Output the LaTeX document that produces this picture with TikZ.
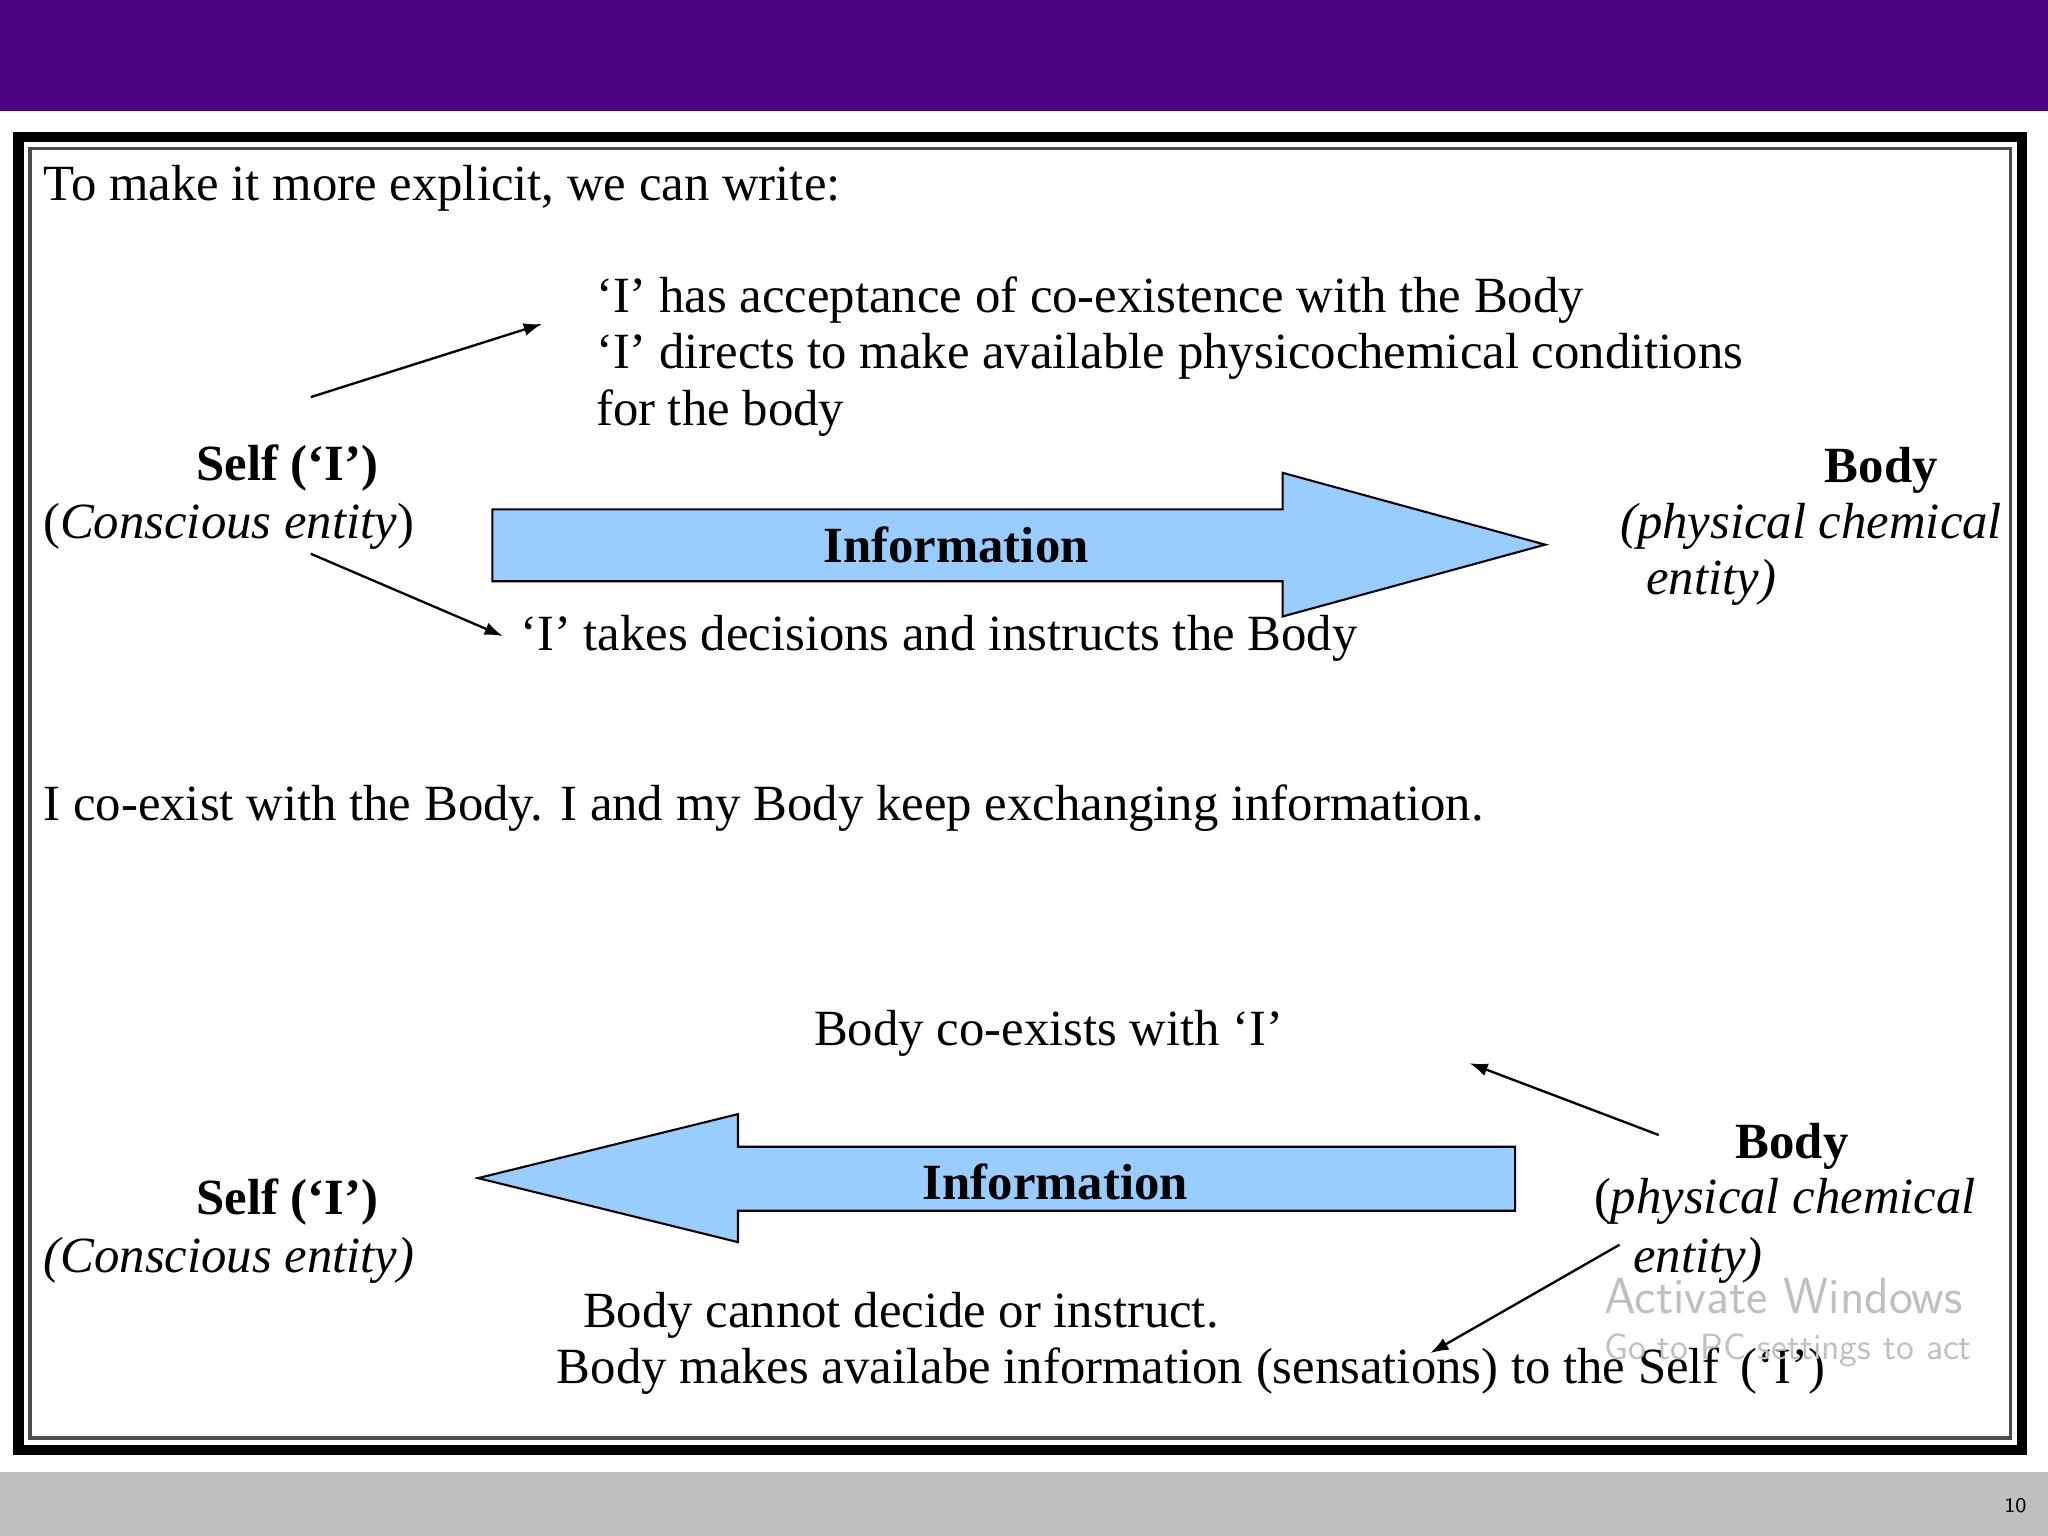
\documentclass[tikz,border=0pt]{standalone}
\usepackage{fontspec}
\setmainfont{Liberation Serif}
\usetikzlibrary{arrows.meta}
\usetikzlibrary{positioning}
\definecolor{barpurple}{HTML}{4B0080}
\definecolor{barblue}{HTML}{99CCFF}
\definecolor{bargray}{HTML}{BFBFBF}
\begin{document}
\begin{tikzpicture}[x=0.5bp,y=-0.5bp,>={Latex[length=7bp,width=5bp]},
  txt/.style={inner sep=0pt,font=\fontsize{19.5}{23}\selectfont},
  bigarrow/.style={draw=black,line width=0.8bp,fill=barblue,line join=miter},
  thin/.style={->,line width=0.9bp}]
%%
\useasboundingbox (0,0) rectangle (1568,1176);
\fill[barpurple] (0,0) rectangle (1568,85);
\fill[bargray] (0,1127) rectangle (1568,1176);
\node (page) at (1543,1153) [font=\sffamily\fontsize{8}{9}\selectfont] {10};
\draw[line width=4bp] (14,105) rectangle (1548,1110);
\draw[line width=1.2bp,black!70] (23,114) rectangle (1539,1101);
%
\node (intro) at (33,144) [txt,anchor=west] {To make it more explicit, we can write:};
\node (acc) at (456,230) [txt,anchor=west] {‘I’ has acceptance of co-existence with the Body};
\node (dir) at (456,273) [txt,anchor=west] {‘I’ directs to make available physicochemical conditions};
\node (forb) at (456,316) [txt,anchor=west] {for the body};
\node (selfA) at (220,358) [txt] {\textbf{Self (‘I’)}};
\node (consA) at (175,403) [txt] {(\textit{Conscious entity})};
\node (bodyA) at (1484,360) [txt,anchor=east] {\textbf{Body}};
\node (physA) at (1240,403) [txt,anchor=west] {\textit{(physical chemical}};
\node (entA) at (1260,446) [txt,anchor=west] {\textit{entity)}};
\node (takes) at (398,489) [txt,anchor=west] {‘I’ takes decisions and instructs the Body};
%
\draw[bigarrow] (377,390) -- (982,390) -- (982,362) -- (1183,417) -- (982,472) -- (982,445) -- (377,445) -- cycle;
\node (infoA) at (732,417) [txt] {\textbf{Information}};
\coordinate (fromA) at (238,304);
\coordinate (toA) at (415,248);
\coordinate (fromB) at (238,424);
\coordinate (toB) at (385,487);
\draw[thin] (fromA) -- (toA);
\draw[thin] (fromB) -- (toB);
%
\node (coex) at (33,619) [txt,anchor=west] {I co-exist with the Body. I and my Body keep exchanging information.};
%
\node (bodyco) at (803,791) [txt] {Body co-exists with ‘I’};
\node (selfB) at (220,920) [txt] {\textbf{Self (‘I’)}};
\node (consB) at (33,965) [txt,anchor=west] {\textit{(Conscious entity)}};
\node (bodyB) at (1372,878) [txt] {\textbf{Body}};
\node (physB) at (1220,920) [txt,anchor=west] {(\textit{physical chemical}};
\node (entB) at (1250,965) [txt,anchor=west] {\textit{entity)}};
\node (cannot) at (446,1007) [txt,anchor=west] {Body cannot decide or instruct.};
\node (makes) at (426,1050) [txt,anchor=west] {Body makes availabe information (sensations) to the Self\, (‘I’)};
%
\draw[bigarrow] (1160,878) -- (565,878) -- (565,853) -- (366,902) -- (565,951) -- (565,927) -- (1160,927) -- cycle;
\node (infoB) at (808,905) [txt] {\textbf{Information}};
\coordinate (fromC) at (1270,869);
\coordinate (toC) at (1125,814);
\coordinate (fromD) at (1240,953);
\coordinate (toD) at (1095,1036);
\draw[thin] (fromC) -- (toC);
\draw[thin] (fromD) -- (toD);
%
\node (wm) at (1228,992) [anchor=west,inner sep=0pt,text=black!25,font=\sffamily\fontsize{19.5}{22}\selectfont] {Activate Windows};
\node (wm2) at (1228,1034) [anchor=west,inner sep=0pt,text=black!25,font=\sffamily\fontsize{14}{16}\selectfont] {Go to PC settings to act};
%
\end{tikzpicture}
\end{document}
